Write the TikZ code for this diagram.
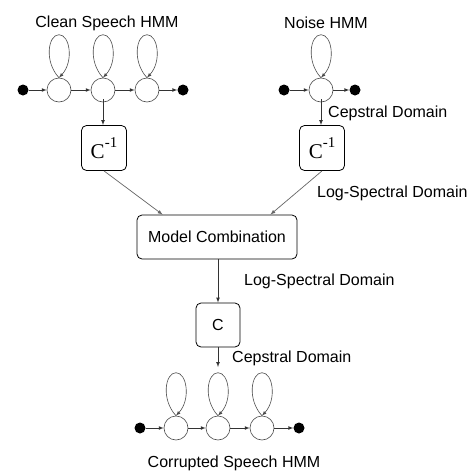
\documentclass[tikz,border=0pt]{standalone}
\usepackage{fontspec}
\setmainfont{Liberation Sans}
\newfontfamily\blockserif{Liberation Serif}
\usetikzlibrary{arrows,calc,positioning}
\definecolor{LineClr}{rgb}{0.3,0.3,0.3}

\tikzset{
  state/.style={circle,draw=LineClr,line width=0.6pt,minimum size=24pt,inner sep=0pt},
  dot/.style={circle,fill=black,minimum size=11pt,inner sep=0pt},
  block/.style={draw=black,line width=0.8pt,rounded corners=5pt,inner sep=0pt},
  lbl/.style={font=\fontsize{16}{18}\selectfont,inner sep=0pt},
  link/.style={draw=black!80,line width=0.7pt,-latex},
  selfloop/.style={draw=LineClr,line width=0.6pt,-latex},
}

\begin{document}
\begin{tikzpicture}[x=1pt,y=-1pt]
\useasboundingbox[fill=white] (0,0) rectangle (474,474);

% clean speech hmm
\node[lbl] (cstitle) at (107,23) {Clean Speech HMM};
\node[dot] (csin) at (23,90) {};
\node[state] (cs1) at (59,90) {};
\node[state] (cs2) at (103,90) {};
\node[state] (cs3) at (147,90) {};
\node[dot] (csout) at (183,90) {};

% noise hmm
\node[lbl] (nztitle) at (326,23) {Noise HMM};
\node[dot] (nzin) at (284,90) {};
\node[state] (nz1) at (321,90) {};
\node[dot] (nzout) at (355,90) {};

% transforms
\node[block,minimum width=45pt,minimum height=45pt] (cinva) at (104,148)
  {\blockserif\fontsize{21}{22}\selectfont C\raisebox{1.1ex}{\fontsize{15}{16}\selectfont -1}};
\node[block,minimum width=45pt,minimum height=45pt] (cinvb) at (322,148)
  {\blockserif\fontsize{21}{22}\selectfont C\raisebox{1.1ex}{\fontsize{15}{16}\selectfont -1}};
\node[block,minimum width=160pt,minimum height=44pt,lbl] (combo) at (217,237) {Model Combination};
\node[block,minimum width=44pt,minimum height=44pt,lbl] (cfwd) at (218,325) {C};

% corrupted speech hmm
\node[dot] (crin) at (140,428) {};
\node[state] (cr1) at (176,428) {};
\node[state] (cr2) at (218,428) {};
\node[state] (cr3) at (262,428) {};
\node[dot] (crout) at (299,428) {};
\node[lbl] (crtitle) at (234,463) {Corrupted Speech HMM};
\coordinate (crtop) at (218,367);

% self loops
\draw[selfloop] (cs1.north) .. controls +(-15,-16) and +(-11,0) .. ++(0,-43) .. controls +(11,0) and +(15,-16) .. (cs1.north);
\draw[selfloop] (cs2.north) .. controls +(-15,-16) and +(-11,0) .. ++(0,-43) .. controls +(11,0) and +(15,-16) .. (cs2.north);
\draw[selfloop] (cs3.north) .. controls +(-15,-16) and +(-11,0) .. ++(0,-43) .. controls +(11,0) and +(15,-16) .. (cs3.north);
\draw[selfloop] (nz1.north) .. controls +(-15,-16) and +(-11,0) .. ++(0,-43) .. controls +(11,0) and +(15,-16) .. (nz1.north);
\draw[selfloop] (cr1.north) .. controls +(-15,-16) and +(-11,0) .. ++(0,-43) .. controls +(11,0) and +(15,-16) .. (cr1.north);
\draw[selfloop] (cr2.north) .. controls +(-15,-16) and +(-11,0) .. ++(0,-43) .. controls +(11,0) and +(15,-16) .. (cr2.north);
\draw[selfloop] (cr3.north) .. controls +(-15,-16) and +(-11,0) .. ++(0,-43) .. controls +(11,0) and +(15,-16) .. (cr3.north);

% transitions
\draw[link] (csin) -- (cs1);
\draw[link] (cs1) -- (cs2);
\draw[link] (cs2) -- (cs3);
\draw[link] (cs3) -- (csout);
\draw[link] (nzin) -- (nz1);
\draw[link] (nz1) -- (nzout);
\draw[link] (crin) -- (cr1);
\draw[link] (cr1) -- (cr2);
\draw[link] (cr2) -- (cr3);
\draw[link] (cr3) -- (crout);

% processing chain
\draw[link] ([yshift=3pt]cs2.south) -- (cs2 |- cinva.north);
\draw[link] ([yshift=3pt]nz1.south) -- (nz1 |- cinvb.north);
\draw[link,draw=black!60] (cinva.south) -- ([xshift=26pt]combo.north west);
\draw[link,draw=black!60] (cinvb.south) -- ([xshift=-27pt]combo.north east);
\draw[link] (cfwd.north |- combo.south) -- (cfwd.north);
\draw[link] (cfwd.south) -- (crtop);

% domain labels
\node[lbl,anchor=west] (cepup) at (328,113) {Cepstral Domain};
\node[lbl,anchor=west] (logup) at (317,193) {Log-Spectral Domain};
\node[lbl,anchor=west] (loglow) at (244,281) {Log-Spectral Domain};
\node[lbl,anchor=west] (ceplow) at (232,358) {Cepstral Domain};

\end{tikzpicture}
\end{document}
